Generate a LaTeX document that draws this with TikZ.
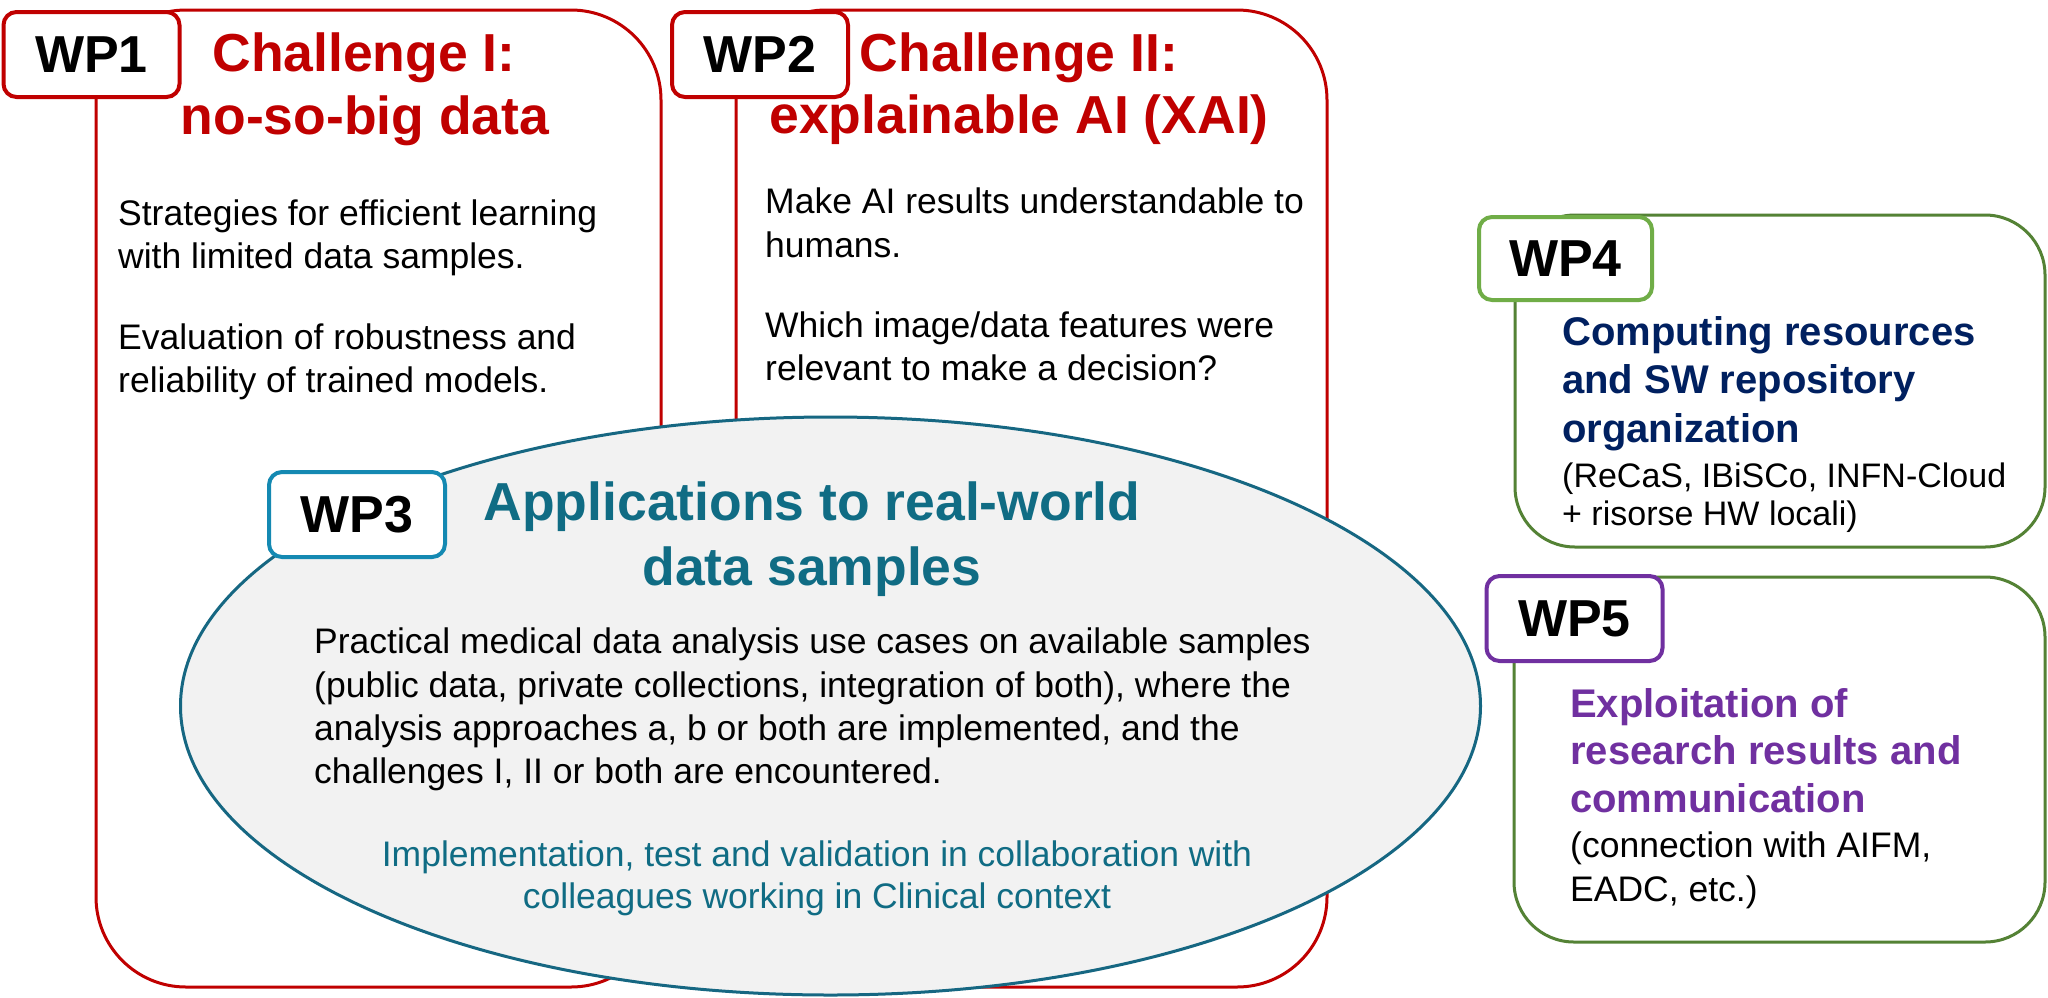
\documentclass[tikz,border=0pt]{standalone}
\usepackage{fontspec}
\setmainfont{Liberation Sans}
\usetikzlibrary{shapes.geometric}
\definecolor{cred}{RGB}{192,0,0}
\definecolor{cgreen}{RGB}{84,130,53}
\definecolor{clgreen}{RGB}{112,173,71}
\definecolor{cpurple}{RGB}{112,48,160}
\definecolor{cnavy}{RGB}{0,32,96}
\definecolor{cteal}{RGB}{22,103,130}
\definecolor{ctealtext}{RGB}{16,108,132}
\definecolor{cwpthree}{RGB}{20,137,178}
\definecolor{cfill}{RGB}{242,242,242}
\begin{document}
\begin{tikzpicture}[x=1pt,y=-1pt,
  bigbox/.style={draw=cred, line width=3pt, fill=white, rounded corners=90pt, inner sep=0pt},
  sidebox/.style={draw=cgreen, line width=3pt, fill=white, rounded corners=60pt, inner sep=0pt},
  wplabel/.style={draw=#1, line width=4pt, fill=white, rounded corners=13pt, minimum width=176pt, minimum height=85pt, inner sep=0pt, font=\fontsize{52}{60}\selectfont\bfseries},
  body/.style={anchor=base west, inner sep=0pt, font=\fontsize{35.5}{43}\selectfont},
  smallbody/.style={anchor=base west, inner sep=0pt, font=\fontsize{34}{40}\selectfont},
  centerbody/.style={anchor=base, inner sep=0pt, font=\fontsize{35.5}{43}\selectfont},
  title/.style={anchor=base, inner sep=0pt, font=\fontsize{53.5}{63}\selectfont\bfseries},
  subtitle/.style={anchor=base west, inner sep=0pt, font=\fontsize{40}{48}\selectfont\bfseries}
]
\fill[white] (0,0) rectangle (2048,997);
\useasboundingbox (0,0) rectangle (2048,997);

% WP1 and WP2 big boxes
\node[bigbox, minimum width=565pt, minimum height=977pt] (b1) at (378.5,498.5) {};
\node[bigbox, minimum width=591pt, minimum height=977pt] (b2) at (1031.5,498.5) {};

\node[title, text=cred] (t1a) at (364,71) {Challenge I:};
\node[title, text=cred] (t1b) at (365,134) {no-so-big data};
\node[title, text=cred] (t2a) at (1019,71) {Challenge II:};
\node[title, text=cred] (t2b) at (1019,133) {explainable AI (XAI)};

\node[body] (p1a) at (118,225) {Strategies for efficient learning};
\node[body] (p1b) at (118,268) {with limited data samples.};
\node[body] (p1c) at (118,349) {Evaluation of robustness and};
\node[body] (p1d) at (118,392) {reliability of trained models.};

\node[body] (p2a) at (765,213) {Make AI results understandable to};
\node[body] (p2b) at (765,257) {humans.};
\node[body] (p2c) at (765,337) {Which image/data features were};
\node[body] (p2d) at (765,380) {relevant to make a decision?};

% WP3 ellipse
\node[draw=cteal, line width=3pt, fill=cfill, ellipse, minimum width=1300pt, minimum height=578pt, inner sep=0pt] (e3) at (830.5,706) {};
\node[title, text=ctealtext] (t3a) at (812,520) {Applications to real-world};
\node[title, text=ctealtext] (t3b) at (812,585) {data samples};
\node[body] (p3a) at (314,653) {Practical medical data analysis use cases on available samples};
\node[body] (p3b) at (314,697) {(public data, private collections, integration of both), where the};
\node[body] (p3c) at (314,740) {analysis approaches a, b or both are implemented, and the};
\node[body] (p3d) at (314,783) {challenges I, II or both are encountered.};
\node[centerbody, text=ctealtext] (p3e) at (817,866) {Implementation, test and validation in collaboration with};
\node[centerbody, text=ctealtext] (p3f) at (817,908) {colleagues working in Clinical context};

% labels
\node[wplabel=cwpthree] (l3) at (357,514.5) {WP3};
\node[wplabel=cred] (l1) at (91.5,54.5) {WP1};
\node[wplabel=cred] (l2) at (760,54.5) {WP2};

% WP4
\node[sidebox, minimum width=530pt, minimum height=332pt] (b4) at (1780,381) {};
\node[wplabel=clgreen, minimum width=173pt, minimum height=83pt] (l4) at (1565.5,258.5) {WP4};
\node[subtitle, text=cnavy] (t4a) at (1562,345) {Computing resources};
\node[subtitle, text=cnavy] (t4b) at (1562,393) {and SW repository};
\node[subtitle, text=cnavy] (t4c) at (1562,442) {organization};
\node[smallbody] (p4a) at (1562,487) {(ReCaS, IBiSCo, INFN-Cloud};
\node[smallbody] (p4b) at (1562,525) {+ risorse HW locali)};

% WP5
\node[sidebox, minimum width=531pt, minimum height=365pt] (b5) at (1779.5,759.5) {};
\node[wplabel=cpurple] (l5) at (1574.5,618.5) {WP5};
\node[subtitle, text=cpurple] (t5a) at (1570,717) {Exploitation of};
\node[subtitle, text=cpurple] (t5b) at (1570,764) {research results and};
\node[subtitle, text=cpurple] (t5c) at (1570,812) {communication};
\node[body] (p5a) at (1570,857) {(connection with AIFM,};
\node[body] (p5b) at (1570,901) {EADC, etc.)};
\end{tikzpicture}
\end{document}
